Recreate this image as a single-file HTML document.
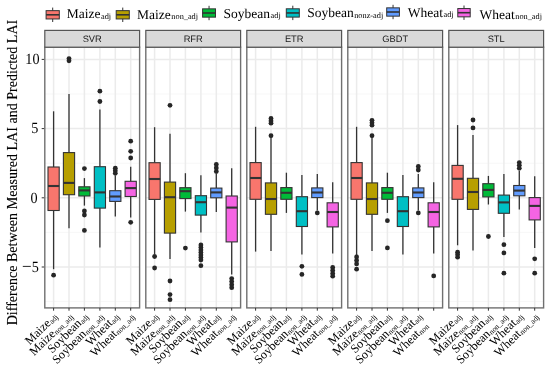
<!DOCTYPE html>
<html><head><meta charset="utf-8"><style>
html,body{margin:0;padding:0;background:#fff;}
body{width:550px;height:372px;overflow:hidden;}
svg{display:block;will-change:transform;filter:blur(0.3px);}
text{text-rendering:geometricPrecision;}
.serif{font-family:"Liberation Serif",serif;}
.sans{font-family:"Liberation Sans",sans-serif;}
</style></head><body>
<svg width="550" height="372" viewBox="0 0 550 372">
<rect x="0" y="0" width="550" height="372" fill="#fff"/>

<line x1="52.70" y1="7.6" x2="52.70" y2="22.0" stroke="#333" stroke-width="1"/>
<rect x="46.1" y="10.65" width="13.2" height="8.3" fill="#F8766D" stroke="#333" stroke-width="1"/>
<line x1="46.1" y1="14.80" x2="59.3" y2="14.80" stroke="#333" stroke-width="1.6"/>
<text class="serif" x="66.8" y="18.3" font-size="13.5" fill="#000">Maize<tspan font-size="8.3" dx="0.5" dy="0.4">adj</tspan></text>
<line x1="122.75" y1="7.6" x2="122.75" y2="22.0" stroke="#333" stroke-width="1"/>
<rect x="116.2" y="10.65" width="13.1" height="8.3" fill="#B79F00" stroke="#333" stroke-width="1"/>
<line x1="116.2" y1="14.80" x2="129.3" y2="14.80" stroke="#333" stroke-width="1.6"/>
<text class="serif" x="137.1" y="18.7" font-size="13.5" fill="#000">Maize<tspan font-size="8.3" dx="0.5" dy="0.4">non_adj</tspan></text>
<line x1="209.05" y1="5.8" x2="209.05" y2="20.2" stroke="#333" stroke-width="1"/>
<rect x="202.6" y="8.85" width="12.9" height="8.3" fill="#00BA38" stroke="#333" stroke-width="1"/>
<line x1="202.6" y1="13.00" x2="215.5" y2="13.00" stroke="#333" stroke-width="1.6"/>
<text class="serif" x="223.6" y="17.5" font-size="13.5" fill="#000">Soybean<tspan font-size="8.3" dx="0.5" dy="0.4">adj</tspan></text>
<line x1="292.80" y1="5.7" x2="292.80" y2="20.1" stroke="#333" stroke-width="1"/>
<rect x="286.3" y="8.80" width="13.0" height="8.3" fill="#00BFC4" stroke="#333" stroke-width="1"/>
<line x1="286.3" y1="12.95" x2="299.3" y2="12.95" stroke="#333" stroke-width="1.6"/>
<text class="serif" x="307.2" y="17.2" font-size="13.5" fill="#000">Soybean<tspan font-size="8.3" dx="0.5" dy="0.4">nonz-adj</tspan></text>
<line x1="393.05" y1="4.8" x2="393.05" y2="19.2" stroke="#333" stroke-width="1"/>
<rect x="386.7" y="7.85" width="12.7" height="8.3" fill="#619CFF" stroke="#333" stroke-width="1"/>
<line x1="386.7" y1="12.00" x2="399.4" y2="12.00" stroke="#333" stroke-width="1.6"/>
<text class="serif" x="407.8" y="16.9" font-size="13.5" fill="#000">Wheat<tspan font-size="8.3" dx="0.5" dy="0.4">adj</tspan></text>
<line x1="464.00" y1="5.5" x2="464.00" y2="19.9" stroke="#333" stroke-width="1"/>
<rect x="457.8" y="8.55" width="12.4" height="8.3" fill="#F564E3" stroke="#333" stroke-width="1"/>
<line x1="457.8" y1="12.70" x2="470.2" y2="12.70" stroke="#333" stroke-width="1.6"/>
<text class="serif" x="479.5" y="18.5" font-size="13.5" fill="#000">Wheat<tspan font-size="8.3" dx="0.5" dy="0.4">non_adj</tspan></text>
<text class="serif" transform="translate(16.8,172.55) rotate(-90)" text-anchor="middle" font-size="14.05" fill="#000" stroke="#000" stroke-width="0.1" style="text-rendering:optimizeLegibility">Difference Between Measured LAI and Predicted LAI</text>
<text class="serif" transform="translate(39.5,59.4) scale(1,1.1)" x="0" y="4.4" text-anchor="end" font-size="14.2" fill="#000">10</text>
<line x1="41.7" y1="59.4" x2="44.5" y2="59.4" stroke="#333" stroke-width="1"/>
<text class="serif" transform="translate(38.3,128.6) scale(1,1.1)" x="0" y="4.4" text-anchor="end" font-size="14.2" fill="#000">5</text>
<line x1="41.7" y1="128.6" x2="44.5" y2="128.6" stroke="#333" stroke-width="1"/>
<text class="serif" transform="translate(37.5,197.8) scale(1,1.1)" x="0" y="4.4" text-anchor="end" font-size="14.2" fill="#000">0</text>
<line x1="41.7" y1="197.8" x2="44.5" y2="197.8" stroke="#333" stroke-width="1"/>
<text class="serif" transform="translate(38.9,267.0) scale(1,1.1)" x="0" y="4.4" text-anchor="end" font-size="14.2" fill="#000">5</text>
<line x1="22.8" y1="266.4" x2="30.8" y2="266.4" stroke="#000" stroke-width="0.85"/>
<line x1="41.7" y1="267.0" x2="44.5" y2="267.0" stroke="#333" stroke-width="1"/>
<rect x="44.8" y="47.2" width="94.8" height="260.7" fill="#fff"/>
<line x1="44.8" y1="94.0" x2="139.6" y2="94.0" stroke="#F2F2F2" stroke-width="0.6"/>
<line x1="44.8" y1="163.2" x2="139.6" y2="163.2" stroke="#F2F2F2" stroke-width="0.6"/>
<line x1="44.8" y1="232.4" x2="139.6" y2="232.4" stroke="#F2F2F2" stroke-width="0.6"/>
<line x1="44.8" y1="301.6" x2="139.6" y2="301.6" stroke="#F2F2F2" stroke-width="0.6"/>
<line x1="44.8" y1="59.4" x2="139.6" y2="59.4" stroke="#EBEBEB" stroke-width="1.5"/>
<line x1="44.8" y1="128.6" x2="139.6" y2="128.6" stroke="#EBEBEB" stroke-width="1.5"/>
<line x1="44.8" y1="197.8" x2="139.6" y2="197.8" stroke="#EBEBEB" stroke-width="1.5"/>
<line x1="44.8" y1="267.0" x2="139.6" y2="267.0" stroke="#EBEBEB" stroke-width="1.5"/>
<line x1="53.6" y1="47.2" x2="53.6" y2="307.9" stroke="#EBEBEB" stroke-width="1.5"/>
<line x1="69.0" y1="47.2" x2="69.0" y2="307.9" stroke="#EBEBEB" stroke-width="1.5"/>
<line x1="84.4" y1="47.2" x2="84.4" y2="307.9" stroke="#EBEBEB" stroke-width="1.5"/>
<line x1="99.9" y1="47.2" x2="99.9" y2="307.9" stroke="#EBEBEB" stroke-width="1.5"/>
<line x1="115.3" y1="47.2" x2="115.3" y2="307.9" stroke="#EBEBEB" stroke-width="1.5"/>
<line x1="130.7" y1="47.2" x2="130.7" y2="307.9" stroke="#EBEBEB" stroke-width="1.5"/>
<line x1="53.6" y1="111.3" x2="53.6" y2="167.0" stroke="#333" stroke-width="1.3"/>
<line x1="53.6" y1="210.5" x2="53.6" y2="269.2" stroke="#333" stroke-width="1.3"/>
<rect x="48.0" y="167.0" width="11.2" height="43.5" fill="#F8766D" stroke="#333" stroke-width="1.1"/>
<line x1="48.0" y1="186.0" x2="59.2" y2="186.0" stroke="#333" stroke-width="2.1"/>
<circle cx="53.6" cy="275.2" r="2.4" fill="#262626"/>
<line x1="69.0" y1="93.9" x2="69.0" y2="152.6" stroke="#333" stroke-width="1.3"/>
<line x1="69.0" y1="194.7" x2="69.0" y2="228.2" stroke="#333" stroke-width="1.3"/>
<rect x="63.4" y="152.6" width="11.2" height="42.1" fill="#B79F00" stroke="#333" stroke-width="1.1"/>
<line x1="63.4" y1="182.9" x2="74.6" y2="182.9" stroke="#333" stroke-width="2.1"/>
<circle cx="69.0" cy="58.6" r="2.4" fill="#262626"/>
<circle cx="69.0" cy="60.8" r="2.4" fill="#262626"/>
<line x1="84.4" y1="178.1" x2="84.4" y2="186.8" stroke="#333" stroke-width="1.3"/>
<line x1="84.4" y1="196.0" x2="84.4" y2="205.6" stroke="#333" stroke-width="1.3"/>
<rect x="78.8" y="186.8" width="11.2" height="9.2" fill="#00BA38" stroke="#333" stroke-width="1.1"/>
<line x1="78.8" y1="190.4" x2="90.0" y2="190.4" stroke="#333" stroke-width="2.1"/>
<circle cx="84.4" cy="168.6" r="2.4" fill="#262626"/>
<circle cx="84.4" cy="211.0" r="2.4" fill="#262626"/>
<circle cx="84.4" cy="215.0" r="2.4" fill="#262626"/>
<circle cx="84.4" cy="230.4" r="2.4" fill="#262626"/>
<line x1="99.9" y1="109.6" x2="99.9" y2="166.7" stroke="#333" stroke-width="1.3"/>
<line x1="99.9" y1="208.1" x2="99.9" y2="247.6" stroke="#333" stroke-width="1.3"/>
<rect x="94.3" y="166.7" width="11.2" height="41.4" fill="#00BFC4" stroke="#333" stroke-width="1.1"/>
<line x1="94.3" y1="192.4" x2="105.5" y2="192.4" stroke="#333" stroke-width="2.1"/>
<circle cx="99.9" cy="91.2" r="2.4" fill="#262626"/>
<circle cx="99.9" cy="101.5" r="2.4" fill="#262626"/>
<line x1="115.3" y1="175.5" x2="115.3" y2="190.7" stroke="#333" stroke-width="1.3"/>
<line x1="115.3" y1="201.4" x2="115.3" y2="216.6" stroke="#333" stroke-width="1.3"/>
<rect x="109.7" y="190.7" width="11.2" height="10.7" fill="#619CFF" stroke="#333" stroke-width="1.1"/>
<line x1="109.7" y1="196.5" x2="120.9" y2="196.5" stroke="#333" stroke-width="2.1"/>
<circle cx="115.3" cy="168.2" r="2.4" fill="#262626"/>
<circle cx="115.3" cy="170.8" r="2.4" fill="#262626"/>
<circle cx="115.3" cy="173.3" r="2.4" fill="#262626"/>
<line x1="130.7" y1="166.7" x2="130.7" y2="181.3" stroke="#333" stroke-width="1.3"/>
<line x1="130.7" y1="196.5" x2="130.7" y2="217.4" stroke="#333" stroke-width="1.3"/>
<rect x="125.1" y="181.3" width="11.2" height="15.2" fill="#F564E3" stroke="#333" stroke-width="1.1"/>
<line x1="125.1" y1="188.1" x2="136.3" y2="188.1" stroke="#333" stroke-width="2.1"/>
<circle cx="130.7" cy="141.2" r="2.4" fill="#262626"/>
<circle cx="130.7" cy="151.3" r="2.4" fill="#262626"/>
<circle cx="130.7" cy="158.0" r="2.4" fill="#262626"/>
<circle cx="130.7" cy="222.3" r="2.4" fill="#262626"/>
<rect x="44.8" y="47.2" width="94.8" height="260.7" fill="none" stroke="#707070" stroke-width="1.4"/>
<rect x="44.8" y="30.4" width="94.8" height="16.8" fill="#D9D9D9" stroke="#555" stroke-width="1.2"/>
<text class="sans" x="92.2" y="41.9" text-anchor="middle" font-size="9.3" fill="#1A1A1A">SVR</text>
<line x1="53.6" y1="307.9" x2="53.6" y2="310.7" stroke="#333" stroke-width="1"/>
<text class="serif" transform="translate(58.1,317.1) rotate(-45)" text-anchor="end" font-size="12.3" fill="#000">Maize<tspan font-size="7.6" dx="0.2" dy="0.9">adj</tspan></text>
<line x1="69.0" y1="307.9" x2="69.0" y2="310.7" stroke="#333" stroke-width="1"/>
<text class="serif" transform="translate(73.5,317.1) rotate(-45)" text-anchor="end" font-size="12.3" fill="#000">Maize<tspan font-size="7.6" dx="0.2" dy="0.9">non_adj</tspan></text>
<line x1="84.4" y1="307.9" x2="84.4" y2="310.7" stroke="#333" stroke-width="1"/>
<text class="serif" transform="translate(88.9,317.1) rotate(-45)" text-anchor="end" font-size="12.3" fill="#000">Soybean<tspan font-size="7.6" dx="0.2" dy="0.9">adj</tspan></text>
<line x1="99.9" y1="307.9" x2="99.9" y2="310.7" stroke="#333" stroke-width="1"/>
<text class="serif" transform="translate(104.4,317.1) rotate(-45)" text-anchor="end" font-size="12.3" fill="#000">Soybean<tspan font-size="7.6" dx="0.2" dy="0.9">non_adj</tspan></text>
<line x1="115.3" y1="307.9" x2="115.3" y2="310.7" stroke="#333" stroke-width="1"/>
<text class="serif" transform="translate(119.8,317.1) rotate(-45)" text-anchor="end" font-size="12.3" fill="#000">Wheat<tspan font-size="7.6" dx="0.2" dy="0.9">adj</tspan></text>
<line x1="130.7" y1="307.9" x2="130.7" y2="310.7" stroke="#333" stroke-width="1"/>
<text class="serif" transform="translate(135.2,317.1) rotate(-45)" text-anchor="end" font-size="12.3" fill="#000">Wheat<tspan font-size="7.6" dx="0.2" dy="0.9">non_adj</tspan></text>
<rect x="145.8" y="47.2" width="94.8" height="260.7" fill="#fff"/>
<line x1="145.8" y1="94.0" x2="240.6" y2="94.0" stroke="#F2F2F2" stroke-width="0.6"/>
<line x1="145.8" y1="163.2" x2="240.6" y2="163.2" stroke="#F2F2F2" stroke-width="0.6"/>
<line x1="145.8" y1="232.4" x2="240.6" y2="232.4" stroke="#F2F2F2" stroke-width="0.6"/>
<line x1="145.8" y1="301.6" x2="240.6" y2="301.6" stroke="#F2F2F2" stroke-width="0.6"/>
<line x1="145.8" y1="59.4" x2="240.6" y2="59.4" stroke="#EBEBEB" stroke-width="1.5"/>
<line x1="145.8" y1="128.6" x2="240.6" y2="128.6" stroke="#EBEBEB" stroke-width="1.5"/>
<line x1="145.8" y1="197.8" x2="240.6" y2="197.8" stroke="#EBEBEB" stroke-width="1.5"/>
<line x1="145.8" y1="267.0" x2="240.6" y2="267.0" stroke="#EBEBEB" stroke-width="1.5"/>
<line x1="154.6" y1="47.2" x2="154.6" y2="307.9" stroke="#EBEBEB" stroke-width="1.5"/>
<line x1="170.0" y1="47.2" x2="170.0" y2="307.9" stroke="#EBEBEB" stroke-width="1.5"/>
<line x1="185.4" y1="47.2" x2="185.4" y2="307.9" stroke="#EBEBEB" stroke-width="1.5"/>
<line x1="200.9" y1="47.2" x2="200.9" y2="307.9" stroke="#EBEBEB" stroke-width="1.5"/>
<line x1="216.3" y1="47.2" x2="216.3" y2="307.9" stroke="#EBEBEB" stroke-width="1.5"/>
<line x1="231.7" y1="47.2" x2="231.7" y2="307.9" stroke="#EBEBEB" stroke-width="1.5"/>
<line x1="154.6" y1="127.2" x2="154.6" y2="162.7" stroke="#333" stroke-width="1.3"/>
<line x1="154.6" y1="199.4" x2="154.6" y2="254.0" stroke="#333" stroke-width="1.3"/>
<rect x="149.0" y="162.7" width="11.2" height="36.7" fill="#F8766D" stroke="#333" stroke-width="1.1"/>
<line x1="149.0" y1="179.0" x2="160.2" y2="179.0" stroke="#333" stroke-width="2.1"/>
<circle cx="154.6" cy="256.5" r="2.4" fill="#262626"/>
<circle cx="154.6" cy="268.0" r="2.4" fill="#262626"/>
<line x1="170.0" y1="133.8" x2="170.0" y2="182.1" stroke="#333" stroke-width="1.3"/>
<line x1="170.0" y1="233.1" x2="170.0" y2="259.0" stroke="#333" stroke-width="1.3"/>
<rect x="164.4" y="182.1" width="11.2" height="51.0" fill="#B79F00" stroke="#333" stroke-width="1.1"/>
<line x1="164.4" y1="197.2" x2="175.6" y2="197.2" stroke="#333" stroke-width="2.1"/>
<circle cx="170.0" cy="105.3" r="2.4" fill="#262626"/>
<circle cx="170.0" cy="281.0" r="2.4" fill="#262626"/>
<circle cx="170.0" cy="294.6" r="2.4" fill="#262626"/>
<circle cx="170.0" cy="299.7" r="2.4" fill="#262626"/>
<line x1="185.4" y1="173.2" x2="185.4" y2="187.7" stroke="#333" stroke-width="1.3"/>
<line x1="185.4" y1="198.6" x2="185.4" y2="211.6" stroke="#333" stroke-width="1.3"/>
<rect x="179.8" y="187.7" width="11.2" height="10.9" fill="#00BA38" stroke="#333" stroke-width="1.1"/>
<line x1="179.8" y1="191.2" x2="191.0" y2="191.2" stroke="#333" stroke-width="2.1"/>
<circle cx="185.4" cy="248.1" r="2.4" fill="#262626"/>
<line x1="200.9" y1="175.3" x2="200.9" y2="195.7" stroke="#333" stroke-width="1.3"/>
<line x1="200.9" y1="215.1" x2="200.9" y2="232.6" stroke="#333" stroke-width="1.3"/>
<rect x="195.3" y="195.7" width="11.2" height="19.4" fill="#00BFC4" stroke="#333" stroke-width="1.1"/>
<line x1="195.3" y1="202.2" x2="206.5" y2="202.2" stroke="#333" stroke-width="2.1"/>
<circle cx="200.9" cy="245.0" r="2.4" fill="#262626"/>
<circle cx="200.9" cy="247.5" r="2.4" fill="#262626"/>
<circle cx="200.9" cy="250.0" r="2.4" fill="#262626"/>
<circle cx="200.9" cy="252.5" r="2.4" fill="#262626"/>
<circle cx="200.9" cy="255.0" r="2.4" fill="#262626"/>
<circle cx="200.9" cy="257.5" r="2.4" fill="#262626"/>
<circle cx="200.9" cy="260.0" r="2.4" fill="#262626"/>
<circle cx="200.9" cy="265.7" r="2.4" fill="#262626"/>
<line x1="216.3" y1="174.1" x2="216.3" y2="188.1" stroke="#333" stroke-width="1.3"/>
<line x1="216.3" y1="197.8" x2="216.3" y2="212.0" stroke="#333" stroke-width="1.3"/>
<rect x="210.7" y="188.1" width="11.2" height="9.7" fill="#619CFF" stroke="#333" stroke-width="1.1"/>
<line x1="210.7" y1="192.4" x2="221.9" y2="192.4" stroke="#333" stroke-width="2.1"/>
<circle cx="216.3" cy="164.5" r="2.4" fill="#262626"/>
<circle cx="216.3" cy="168.0" r="2.4" fill="#262626"/>
<circle cx="216.3" cy="171.5" r="2.4" fill="#262626"/>
<line x1="231.7" y1="168.3" x2="231.7" y2="196.0" stroke="#333" stroke-width="1.3"/>
<line x1="231.7" y1="241.9" x2="231.7" y2="274.5" stroke="#333" stroke-width="1.3"/>
<rect x="226.1" y="196.0" width="11.2" height="45.9" fill="#F564E3" stroke="#333" stroke-width="1.1"/>
<line x1="226.1" y1="207.6" x2="237.3" y2="207.6" stroke="#333" stroke-width="2.1"/>
<circle cx="231.7" cy="278.6" r="2.4" fill="#262626"/>
<circle cx="231.7" cy="281.6" r="2.4" fill="#262626"/>
<circle cx="231.7" cy="284.7" r="2.4" fill="#262626"/>
<circle cx="231.7" cy="287.7" r="2.4" fill="#262626"/>
<rect x="145.8" y="47.2" width="94.8" height="260.7" fill="none" stroke="#707070" stroke-width="1.4"/>
<rect x="145.8" y="30.4" width="94.8" height="16.8" fill="#D9D9D9" stroke="#555" stroke-width="1.2"/>
<text class="sans" x="193.2" y="41.9" text-anchor="middle" font-size="9.3" fill="#1A1A1A">RFR</text>
<line x1="154.6" y1="307.9" x2="154.6" y2="310.7" stroke="#333" stroke-width="1"/>
<text class="serif" transform="translate(159.1,317.1) rotate(-45)" text-anchor="end" font-size="12.3" fill="#000">Maize<tspan font-size="7.6" dx="0.2" dy="0.9">adj</tspan></text>
<line x1="170.0" y1="307.9" x2="170.0" y2="310.7" stroke="#333" stroke-width="1"/>
<text class="serif" transform="translate(174.5,317.1) rotate(-45)" text-anchor="end" font-size="12.3" fill="#000">Maize<tspan font-size="7.6" dx="0.2" dy="0.9">non_adj</tspan></text>
<line x1="185.4" y1="307.9" x2="185.4" y2="310.7" stroke="#333" stroke-width="1"/>
<text class="serif" transform="translate(189.9,317.1) rotate(-45)" text-anchor="end" font-size="12.3" fill="#000">Soybean<tspan font-size="7.6" dx="0.2" dy="0.9">adj</tspan></text>
<line x1="200.9" y1="307.9" x2="200.9" y2="310.7" stroke="#333" stroke-width="1"/>
<text class="serif" transform="translate(205.4,317.1) rotate(-45)" text-anchor="end" font-size="12.3" fill="#000">Soybean<tspan font-size="7.6" dx="0.2" dy="0.9">non_adj</tspan></text>
<line x1="216.3" y1="307.9" x2="216.3" y2="310.7" stroke="#333" stroke-width="1"/>
<text class="serif" transform="translate(220.8,317.1) rotate(-45)" text-anchor="end" font-size="12.3" fill="#000">Wheat<tspan font-size="7.6" dx="0.2" dy="0.9">adj</tspan></text>
<line x1="231.7" y1="307.9" x2="231.7" y2="310.7" stroke="#333" stroke-width="1"/>
<text class="serif" transform="translate(236.2,317.1) rotate(-45)" text-anchor="end" font-size="12.3" fill="#000">Wheat<tspan font-size="7.6" dx="0.2" dy="0.9">non_adj</tspan></text>
<rect x="246.8" y="47.2" width="94.8" height="260.7" fill="#fff"/>
<line x1="246.8" y1="94.0" x2="341.6" y2="94.0" stroke="#F2F2F2" stroke-width="0.6"/>
<line x1="246.8" y1="163.2" x2="341.6" y2="163.2" stroke="#F2F2F2" stroke-width="0.6"/>
<line x1="246.8" y1="232.4" x2="341.6" y2="232.4" stroke="#F2F2F2" stroke-width="0.6"/>
<line x1="246.8" y1="301.6" x2="341.6" y2="301.6" stroke="#F2F2F2" stroke-width="0.6"/>
<line x1="246.8" y1="59.4" x2="341.6" y2="59.4" stroke="#EBEBEB" stroke-width="1.5"/>
<line x1="246.8" y1="128.6" x2="341.6" y2="128.6" stroke="#EBEBEB" stroke-width="1.5"/>
<line x1="246.8" y1="197.8" x2="341.6" y2="197.8" stroke="#EBEBEB" stroke-width="1.5"/>
<line x1="246.8" y1="267.0" x2="341.6" y2="267.0" stroke="#EBEBEB" stroke-width="1.5"/>
<line x1="255.6" y1="47.2" x2="255.6" y2="307.9" stroke="#EBEBEB" stroke-width="1.5"/>
<line x1="271.0" y1="47.2" x2="271.0" y2="307.9" stroke="#EBEBEB" stroke-width="1.5"/>
<line x1="286.4" y1="47.2" x2="286.4" y2="307.9" stroke="#EBEBEB" stroke-width="1.5"/>
<line x1="301.9" y1="47.2" x2="301.9" y2="307.9" stroke="#EBEBEB" stroke-width="1.5"/>
<line x1="317.3" y1="47.2" x2="317.3" y2="307.9" stroke="#EBEBEB" stroke-width="1.5"/>
<line x1="332.7" y1="47.2" x2="332.7" y2="307.9" stroke="#EBEBEB" stroke-width="1.5"/>
<line x1="255.6" y1="126.8" x2="255.6" y2="162.6" stroke="#333" stroke-width="1.3"/>
<line x1="255.6" y1="199.3" x2="255.6" y2="251.6" stroke="#333" stroke-width="1.3"/>
<rect x="250.0" y="162.6" width="11.2" height="36.7" fill="#F8766D" stroke="#333" stroke-width="1.1"/>
<line x1="250.0" y1="178.0" x2="261.2" y2="178.0" stroke="#333" stroke-width="2.1"/>
<line x1="271.0" y1="137.0" x2="271.0" y2="182.9" stroke="#333" stroke-width="1.3"/>
<line x1="271.0" y1="214.3" x2="271.0" y2="250.9" stroke="#333" stroke-width="1.3"/>
<rect x="265.4" y="182.9" width="11.2" height="31.4" fill="#B79F00" stroke="#333" stroke-width="1.1"/>
<line x1="265.4" y1="199.0" x2="276.6" y2="199.0" stroke="#333" stroke-width="2.1"/>
<circle cx="271.0" cy="118.5" r="2.4" fill="#262626"/>
<circle cx="271.0" cy="120.9" r="2.4" fill="#262626"/>
<circle cx="271.0" cy="123.2" r="2.4" fill="#262626"/>
<circle cx="271.0" cy="135.7" r="2.4" fill="#262626"/>
<line x1="286.4" y1="172.7" x2="286.4" y2="187.6" stroke="#333" stroke-width="1.3"/>
<line x1="286.4" y1="199.3" x2="286.4" y2="212.9" stroke="#333" stroke-width="1.3"/>
<rect x="280.8" y="187.6" width="11.2" height="11.7" fill="#00BA38" stroke="#333" stroke-width="1.1"/>
<line x1="280.8" y1="192.8" x2="292.0" y2="192.8" stroke="#333" stroke-width="2.1"/>
<line x1="301.9" y1="175.0" x2="301.9" y2="196.7" stroke="#333" stroke-width="1.3"/>
<line x1="301.9" y1="226.5" x2="301.9" y2="254.4" stroke="#333" stroke-width="1.3"/>
<rect x="296.3" y="196.7" width="11.2" height="29.8" fill="#00BFC4" stroke="#333" stroke-width="1.1"/>
<line x1="296.3" y1="211.2" x2="307.5" y2="211.2" stroke="#333" stroke-width="2.1"/>
<circle cx="301.9" cy="266.3" r="2.4" fill="#262626"/>
<circle cx="301.9" cy="274.4" r="2.4" fill="#262626"/>
<line x1="317.3" y1="174.0" x2="317.3" y2="187.9" stroke="#333" stroke-width="1.3"/>
<line x1="317.3" y1="197.6" x2="317.3" y2="210.5" stroke="#333" stroke-width="1.3"/>
<rect x="311.7" y="187.9" width="11.2" height="9.7" fill="#619CFF" stroke="#333" stroke-width="1.1"/>
<line x1="311.7" y1="192.5" x2="322.9" y2="192.5" stroke="#333" stroke-width="2.1"/>
<circle cx="317.3" cy="212.9" r="2.4" fill="#262626"/>
<line x1="332.7" y1="182.3" x2="332.7" y2="202.8" stroke="#333" stroke-width="1.3"/>
<line x1="332.7" y1="226.9" x2="332.7" y2="253.6" stroke="#333" stroke-width="1.3"/>
<rect x="327.1" y="202.8" width="11.2" height="24.1" fill="#F564E3" stroke="#333" stroke-width="1.1"/>
<line x1="327.1" y1="212.0" x2="338.3" y2="212.0" stroke="#333" stroke-width="2.1"/>
<circle cx="332.7" cy="267.5" r="2.4" fill="#262626"/>
<circle cx="332.7" cy="270.4" r="2.4" fill="#262626"/>
<circle cx="332.7" cy="273.4" r="2.4" fill="#262626"/>
<circle cx="332.7" cy="276.2" r="2.4" fill="#262626"/>
<rect x="246.8" y="47.2" width="94.8" height="260.7" fill="none" stroke="#707070" stroke-width="1.4"/>
<rect x="246.8" y="30.4" width="94.8" height="16.8" fill="#D9D9D9" stroke="#555" stroke-width="1.2"/>
<text class="sans" x="294.2" y="41.9" text-anchor="middle" font-size="9.3" fill="#1A1A1A">ETR</text>
<line x1="255.6" y1="307.9" x2="255.6" y2="310.7" stroke="#333" stroke-width="1"/>
<text class="serif" transform="translate(260.1,317.1) rotate(-45)" text-anchor="end" font-size="12.3" fill="#000">Maize<tspan font-size="7.6" dx="0.2" dy="0.9">adj</tspan></text>
<line x1="271.0" y1="307.9" x2="271.0" y2="310.7" stroke="#333" stroke-width="1"/>
<text class="serif" transform="translate(275.5,317.1) rotate(-45)" text-anchor="end" font-size="12.3" fill="#000">Maize<tspan font-size="7.6" dx="0.2" dy="0.9">non_adj</tspan></text>
<line x1="286.4" y1="307.9" x2="286.4" y2="310.7" stroke="#333" stroke-width="1"/>
<text class="serif" transform="translate(290.9,317.1) rotate(-45)" text-anchor="end" font-size="12.3" fill="#000">Soybean<tspan font-size="7.6" dx="0.2" dy="0.9">adj</tspan></text>
<line x1="301.9" y1="307.9" x2="301.9" y2="310.7" stroke="#333" stroke-width="1"/>
<text class="serif" transform="translate(306.4,317.1) rotate(-45)" text-anchor="end" font-size="12.3" fill="#000">Soybean<tspan font-size="7.6" dx="0.2" dy="0.9">non_adj</tspan></text>
<line x1="317.3" y1="307.9" x2="317.3" y2="310.7" stroke="#333" stroke-width="1"/>
<text class="serif" transform="translate(321.8,317.1) rotate(-45)" text-anchor="end" font-size="12.3" fill="#000">Wheat<tspan font-size="7.6" dx="0.2" dy="0.9">adj</tspan></text>
<line x1="332.7" y1="307.9" x2="332.7" y2="310.7" stroke="#333" stroke-width="1"/>
<text class="serif" transform="translate(337.2,317.1) rotate(-45)" text-anchor="end" font-size="12.3" fill="#000">Wheat<tspan font-size="7.6" dx="0.2" dy="0.9">non_adj</tspan></text>
<rect x="347.8" y="47.2" width="94.8" height="260.7" fill="#fff"/>
<line x1="347.8" y1="94.0" x2="442.6" y2="94.0" stroke="#F2F2F2" stroke-width="0.6"/>
<line x1="347.8" y1="163.2" x2="442.6" y2="163.2" stroke="#F2F2F2" stroke-width="0.6"/>
<line x1="347.8" y1="232.4" x2="442.6" y2="232.4" stroke="#F2F2F2" stroke-width="0.6"/>
<line x1="347.8" y1="301.6" x2="442.6" y2="301.6" stroke="#F2F2F2" stroke-width="0.6"/>
<line x1="347.8" y1="59.4" x2="442.6" y2="59.4" stroke="#EBEBEB" stroke-width="1.5"/>
<line x1="347.8" y1="128.6" x2="442.6" y2="128.6" stroke="#EBEBEB" stroke-width="1.5"/>
<line x1="347.8" y1="197.8" x2="442.6" y2="197.8" stroke="#EBEBEB" stroke-width="1.5"/>
<line x1="347.8" y1="267.0" x2="442.6" y2="267.0" stroke="#EBEBEB" stroke-width="1.5"/>
<line x1="356.6" y1="47.2" x2="356.6" y2="307.9" stroke="#EBEBEB" stroke-width="1.5"/>
<line x1="372.0" y1="47.2" x2="372.0" y2="307.9" stroke="#EBEBEB" stroke-width="1.5"/>
<line x1="387.4" y1="47.2" x2="387.4" y2="307.9" stroke="#EBEBEB" stroke-width="1.5"/>
<line x1="402.9" y1="47.2" x2="402.9" y2="307.9" stroke="#EBEBEB" stroke-width="1.5"/>
<line x1="418.3" y1="47.2" x2="418.3" y2="307.9" stroke="#EBEBEB" stroke-width="1.5"/>
<line x1="433.7" y1="47.2" x2="433.7" y2="307.9" stroke="#EBEBEB" stroke-width="1.5"/>
<line x1="356.6" y1="126.8" x2="356.6" y2="162.6" stroke="#333" stroke-width="1.3"/>
<line x1="356.6" y1="199.3" x2="356.6" y2="256.0" stroke="#333" stroke-width="1.3"/>
<rect x="351.0" y="162.6" width="11.2" height="36.7" fill="#F8766D" stroke="#333" stroke-width="1.1"/>
<line x1="351.0" y1="178.0" x2="362.2" y2="178.0" stroke="#333" stroke-width="2.1"/>
<circle cx="356.6" cy="257.0" r="2.4" fill="#262626"/>
<circle cx="356.6" cy="260.5" r="2.4" fill="#262626"/>
<circle cx="356.6" cy="263.9" r="2.4" fill="#262626"/>
<circle cx="356.6" cy="269.2" r="2.4" fill="#262626"/>
<line x1="372.0" y1="137.0" x2="372.0" y2="182.9" stroke="#333" stroke-width="1.3"/>
<line x1="372.0" y1="214.3" x2="372.0" y2="250.9" stroke="#333" stroke-width="1.3"/>
<rect x="366.4" y="182.9" width="11.2" height="31.4" fill="#B79F00" stroke="#333" stroke-width="1.1"/>
<line x1="366.4" y1="199.0" x2="377.6" y2="199.0" stroke="#333" stroke-width="2.1"/>
<circle cx="372.0" cy="120.3" r="2.4" fill="#262626"/>
<circle cx="372.0" cy="122.8" r="2.4" fill="#262626"/>
<circle cx="372.0" cy="125.2" r="2.4" fill="#262626"/>
<circle cx="372.0" cy="135.7" r="2.4" fill="#262626"/>
<line x1="387.4" y1="172.7" x2="387.4" y2="187.6" stroke="#333" stroke-width="1.3"/>
<line x1="387.4" y1="199.3" x2="387.4" y2="212.9" stroke="#333" stroke-width="1.3"/>
<rect x="381.8" y="187.6" width="11.2" height="11.7" fill="#00BA38" stroke="#333" stroke-width="1.1"/>
<line x1="381.8" y1="192.8" x2="393.0" y2="192.8" stroke="#333" stroke-width="2.1"/>
<circle cx="387.4" cy="220.7" r="2.4" fill="#262626"/>
<circle cx="387.4" cy="247.9" r="2.4" fill="#262626"/>
<line x1="402.9" y1="175.0" x2="402.9" y2="196.7" stroke="#333" stroke-width="1.3"/>
<line x1="402.9" y1="226.5" x2="402.9" y2="254.4" stroke="#333" stroke-width="1.3"/>
<rect x="397.3" y="196.7" width="11.2" height="29.8" fill="#00BFC4" stroke="#333" stroke-width="1.1"/>
<line x1="397.3" y1="211.2" x2="408.5" y2="211.2" stroke="#333" stroke-width="2.1"/>
<line x1="418.3" y1="174.0" x2="418.3" y2="187.9" stroke="#333" stroke-width="1.3"/>
<line x1="418.3" y1="197.6" x2="418.3" y2="210.5" stroke="#333" stroke-width="1.3"/>
<rect x="412.7" y="187.9" width="11.2" height="9.7" fill="#619CFF" stroke="#333" stroke-width="1.1"/>
<line x1="412.7" y1="192.5" x2="423.9" y2="192.5" stroke="#333" stroke-width="2.1"/>
<circle cx="418.3" cy="166.5" r="2.4" fill="#262626"/>
<circle cx="418.3" cy="170.0" r="2.4" fill="#262626"/>
<circle cx="418.3" cy="212.9" r="2.4" fill="#262626"/>
<line x1="433.7" y1="182.3" x2="433.7" y2="202.8" stroke="#333" stroke-width="1.3"/>
<line x1="433.7" y1="226.9" x2="433.7" y2="253.6" stroke="#333" stroke-width="1.3"/>
<rect x="428.1" y="202.8" width="11.2" height="24.1" fill="#F564E3" stroke="#333" stroke-width="1.1"/>
<line x1="428.1" y1="212.0" x2="439.3" y2="212.0" stroke="#333" stroke-width="2.1"/>
<circle cx="433.7" cy="275.9" r="2.4" fill="#262626"/>
<rect x="347.8" y="47.2" width="94.8" height="260.7" fill="none" stroke="#707070" stroke-width="1.4"/>
<rect x="347.8" y="30.4" width="94.8" height="16.8" fill="#D9D9D9" stroke="#555" stroke-width="1.2"/>
<text class="sans" x="395.2" y="41.9" text-anchor="middle" font-size="9.3" fill="#1A1A1A">GBDT</text>
<line x1="356.6" y1="307.9" x2="356.6" y2="310.7" stroke="#333" stroke-width="1"/>
<text class="serif" transform="translate(361.1,317.1) rotate(-45)" text-anchor="end" font-size="12.3" fill="#000">Maize<tspan font-size="7.6" dx="0.2" dy="0.9">adj</tspan></text>
<line x1="372.0" y1="307.9" x2="372.0" y2="310.7" stroke="#333" stroke-width="1"/>
<text class="serif" transform="translate(376.5,317.1) rotate(-45)" text-anchor="end" font-size="12.3" fill="#000">Maize<tspan font-size="7.6" dx="0.2" dy="0.9">non_adj</tspan></text>
<line x1="387.4" y1="307.9" x2="387.4" y2="310.7" stroke="#333" stroke-width="1"/>
<text class="serif" transform="translate(391.9,317.1) rotate(-45)" text-anchor="end" font-size="12.3" fill="#000">Soybean<tspan font-size="7.6" dx="0.2" dy="0.9">adj</tspan></text>
<line x1="402.9" y1="307.9" x2="402.9" y2="310.7" stroke="#333" stroke-width="1"/>
<text class="serif" transform="translate(407.4,317.1) rotate(-45)" text-anchor="end" font-size="12.3" fill="#000">Soybean<tspan font-size="7.6" dx="0.2" dy="0.9">non_adj</tspan></text>
<line x1="418.3" y1="307.9" x2="418.3" y2="310.7" stroke="#333" stroke-width="1"/>
<text class="serif" transform="translate(422.8,317.1) rotate(-45)" text-anchor="end" font-size="12.3" fill="#000">Wheat<tspan font-size="7.6" dx="0.2" dy="0.9">adj</tspan></text>
<line x1="433.7" y1="307.9" x2="433.7" y2="310.7" stroke="#333" stroke-width="1"/>
<text class="serif" transform="translate(438.2,317.1) rotate(-45)" text-anchor="end" font-size="12.3" fill="#000">Wheat<tspan font-size="7.6" dx="0.2" dy="0.9">non<tspan fill-opacity="0">_adj</tspan></tspan></text>
<rect x="448.8" y="47.2" width="94.8" height="260.7" fill="#fff"/>
<line x1="448.8" y1="94.0" x2="543.6" y2="94.0" stroke="#F2F2F2" stroke-width="0.6"/>
<line x1="448.8" y1="163.2" x2="543.6" y2="163.2" stroke="#F2F2F2" stroke-width="0.6"/>
<line x1="448.8" y1="232.4" x2="543.6" y2="232.4" stroke="#F2F2F2" stroke-width="0.6"/>
<line x1="448.8" y1="301.6" x2="543.6" y2="301.6" stroke="#F2F2F2" stroke-width="0.6"/>
<line x1="448.8" y1="59.4" x2="543.6" y2="59.4" stroke="#EBEBEB" stroke-width="1.5"/>
<line x1="448.8" y1="128.6" x2="543.6" y2="128.6" stroke="#EBEBEB" stroke-width="1.5"/>
<line x1="448.8" y1="197.8" x2="543.6" y2="197.8" stroke="#EBEBEB" stroke-width="1.5"/>
<line x1="448.8" y1="267.0" x2="543.6" y2="267.0" stroke="#EBEBEB" stroke-width="1.5"/>
<line x1="457.6" y1="47.2" x2="457.6" y2="307.9" stroke="#EBEBEB" stroke-width="1.5"/>
<line x1="473.0" y1="47.2" x2="473.0" y2="307.9" stroke="#EBEBEB" stroke-width="1.5"/>
<line x1="488.4" y1="47.2" x2="488.4" y2="307.9" stroke="#EBEBEB" stroke-width="1.5"/>
<line x1="503.9" y1="47.2" x2="503.9" y2="307.9" stroke="#EBEBEB" stroke-width="1.5"/>
<line x1="519.3" y1="47.2" x2="519.3" y2="307.9" stroke="#EBEBEB" stroke-width="1.5"/>
<line x1="534.7" y1="47.2" x2="534.7" y2="307.9" stroke="#EBEBEB" stroke-width="1.5"/>
<line x1="457.6" y1="125.1" x2="457.6" y2="165.4" stroke="#333" stroke-width="1.3"/>
<line x1="457.6" y1="199.3" x2="457.6" y2="245.3" stroke="#333" stroke-width="1.3"/>
<rect x="452.0" y="165.4" width="11.2" height="33.9" fill="#F8766D" stroke="#333" stroke-width="1.1"/>
<line x1="452.0" y1="178.8" x2="463.2" y2="178.8" stroke="#333" stroke-width="2.1"/>
<circle cx="457.6" cy="252.2" r="2.4" fill="#262626"/>
<circle cx="457.6" cy="254.6" r="2.4" fill="#262626"/>
<circle cx="457.6" cy="257.2" r="2.4" fill="#262626"/>
<line x1="473.0" y1="134.9" x2="473.0" y2="178.3" stroke="#333" stroke-width="1.3"/>
<line x1="473.0" y1="209.4" x2="473.0" y2="250.5" stroke="#333" stroke-width="1.3"/>
<rect x="467.4" y="178.3" width="11.2" height="31.1" fill="#B79F00" stroke="#333" stroke-width="1.1"/>
<line x1="467.4" y1="192.0" x2="478.6" y2="192.0" stroke="#333" stroke-width="2.1"/>
<circle cx="473.0" cy="120.0" r="2.4" fill="#262626"/>
<circle cx="473.0" cy="127.9" r="2.4" fill="#262626"/>
<line x1="488.4" y1="175.9" x2="488.4" y2="183.7" stroke="#333" stroke-width="1.3"/>
<line x1="488.4" y1="196.9" x2="488.4" y2="204.5" stroke="#333" stroke-width="1.3"/>
<rect x="482.8" y="183.7" width="11.2" height="13.2" fill="#00BA38" stroke="#333" stroke-width="1.1"/>
<line x1="482.8" y1="189.9" x2="494.0" y2="189.9" stroke="#333" stroke-width="2.1"/>
<circle cx="488.4" cy="236.5" r="2.4" fill="#262626"/>
<line x1="503.9" y1="174.0" x2="503.9" y2="195.1" stroke="#333" stroke-width="1.3"/>
<line x1="503.9" y1="213.3" x2="503.9" y2="237.0" stroke="#333" stroke-width="1.3"/>
<rect x="498.3" y="195.1" width="11.2" height="18.2" fill="#00BFC4" stroke="#333" stroke-width="1.1"/>
<line x1="498.3" y1="202.4" x2="509.5" y2="202.4" stroke="#333" stroke-width="2.1"/>
<circle cx="503.9" cy="244.7" r="2.4" fill="#262626"/>
<circle cx="503.9" cy="252.9" r="2.4" fill="#262626"/>
<circle cx="503.9" cy="273.2" r="2.4" fill="#262626"/>
<line x1="519.3" y1="171.0" x2="519.3" y2="185.5" stroke="#333" stroke-width="1.3"/>
<line x1="519.3" y1="195.8" x2="519.3" y2="209.4" stroke="#333" stroke-width="1.3"/>
<rect x="513.7" y="185.5" width="11.2" height="10.3" fill="#619CFF" stroke="#333" stroke-width="1.1"/>
<line x1="513.7" y1="190.6" x2="524.9" y2="190.6" stroke="#333" stroke-width="2.1"/>
<circle cx="519.3" cy="162.6" r="2.4" fill="#262626"/>
<circle cx="519.3" cy="165.3" r="2.4" fill="#262626"/>
<circle cx="519.3" cy="168.3" r="2.4" fill="#262626"/>
<line x1="534.7" y1="176.2" x2="534.7" y2="197.6" stroke="#333" stroke-width="1.3"/>
<line x1="534.7" y1="219.9" x2="534.7" y2="247.9" stroke="#333" stroke-width="1.3"/>
<rect x="529.1" y="197.6" width="11.2" height="22.3" fill="#F564E3" stroke="#333" stroke-width="1.1"/>
<line x1="529.1" y1="205.9" x2="540.3" y2="205.9" stroke="#333" stroke-width="2.1"/>
<circle cx="534.7" cy="258.8" r="2.4" fill="#262626"/>
<circle cx="534.7" cy="273.2" r="2.4" fill="#262626"/>
<rect x="448.8" y="47.2" width="94.8" height="260.7" fill="none" stroke="#707070" stroke-width="1.4"/>
<rect x="448.8" y="30.4" width="94.8" height="16.8" fill="#D9D9D9" stroke="#555" stroke-width="1.2"/>
<text class="sans" x="496.2" y="41.9" text-anchor="middle" font-size="9.3" fill="#1A1A1A">STL</text>
<line x1="457.6" y1="307.9" x2="457.6" y2="310.7" stroke="#333" stroke-width="1"/>
<text class="serif" transform="translate(462.1,317.1) rotate(-45)" text-anchor="end" font-size="12.3" fill="#000">Maize<tspan font-size="7.6" dx="0.2" dy="0.9">adj</tspan></text>
<line x1="473.0" y1="307.9" x2="473.0" y2="310.7" stroke="#333" stroke-width="1"/>
<text class="serif" transform="translate(477.5,317.1) rotate(-45)" text-anchor="end" font-size="12.3" fill="#000">Maize<tspan font-size="7.6" dx="0.2" dy="0.9">non_adj</tspan></text>
<line x1="488.4" y1="307.9" x2="488.4" y2="310.7" stroke="#333" stroke-width="1"/>
<text class="serif" transform="translate(492.9,317.1) rotate(-45)" text-anchor="end" font-size="12.3" fill="#000">Soybean<tspan font-size="7.6" dx="0.2" dy="0.9">adj</tspan></text>
<line x1="503.9" y1="307.9" x2="503.9" y2="310.7" stroke="#333" stroke-width="1"/>
<text class="serif" transform="translate(508.4,317.1) rotate(-45)" text-anchor="end" font-size="12.3" fill="#000">Soybean<tspan font-size="7.6" dx="0.2" dy="0.9">non_adj</tspan></text>
<line x1="519.3" y1="307.9" x2="519.3" y2="310.7" stroke="#333" stroke-width="1"/>
<text class="serif" transform="translate(523.8,317.1) rotate(-45)" text-anchor="end" font-size="12.3" fill="#000">Wheat<tspan font-size="7.6" dx="0.2" dy="0.9">adj</tspan></text>
<line x1="534.7" y1="307.9" x2="534.7" y2="310.7" stroke="#333" stroke-width="1"/>
<text class="serif" transform="translate(539.2,317.1) rotate(-45)" text-anchor="end" font-size="12.3" fill="#000">Wheat<tspan font-size="7.6" dx="0.2" dy="0.9">non_adj</tspan></text>
</svg>
</body></html>
